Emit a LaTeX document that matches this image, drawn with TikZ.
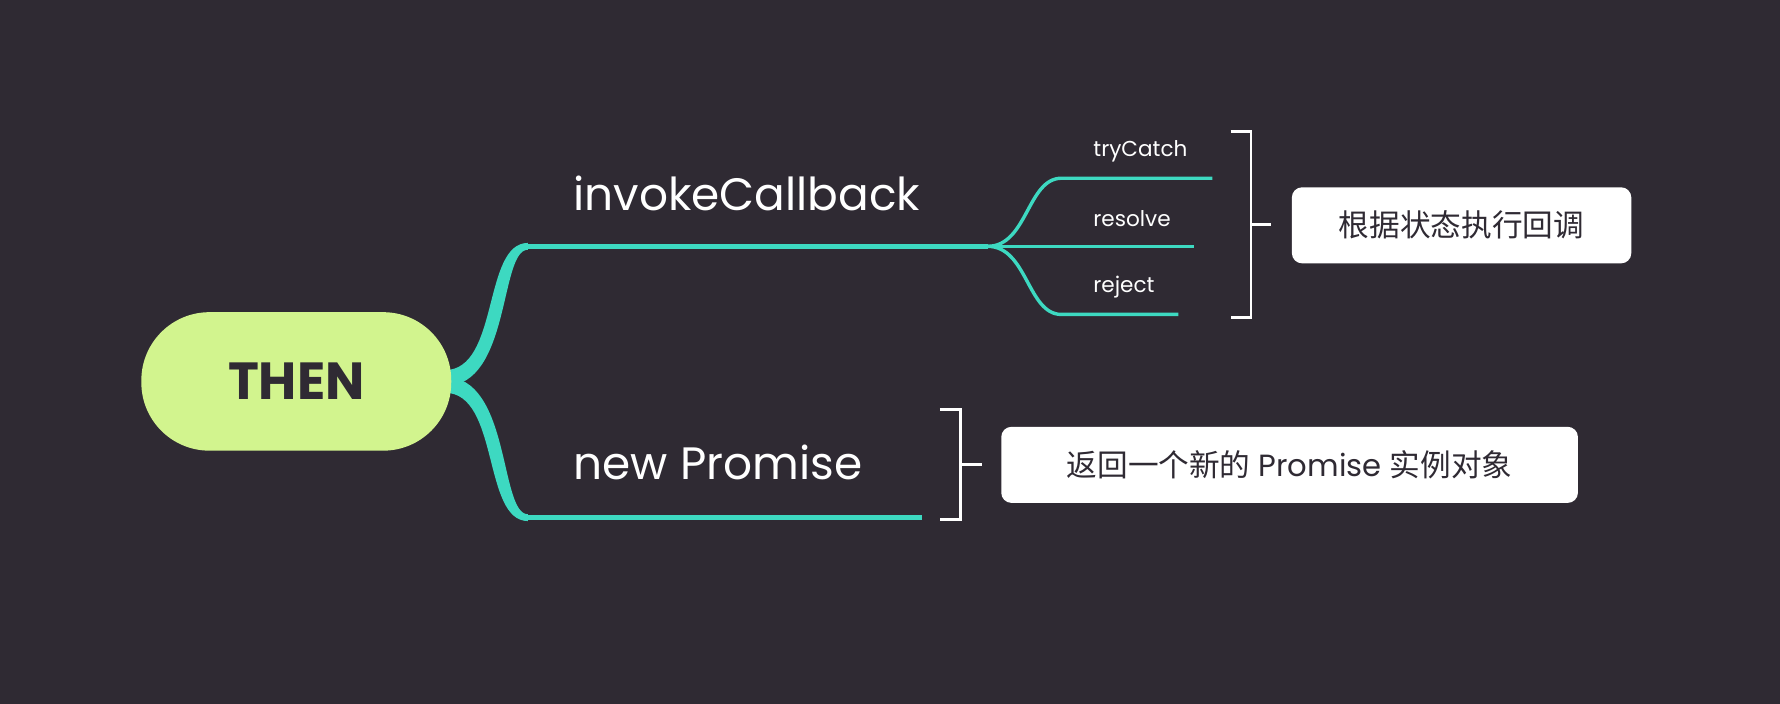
\documentclass[tikz,border=0pt]{standalone}
\usepackage{fontspec}
\setmainfont{Poppins}
\newfontfamily\cjk{Noto Sans CJK SC}
\definecolor{bg}{HTML}{2F2A33}
\definecolor{teal}{HTML}{3DD9C1}
\definecolor{lime}{HTML}{D2F48E}
\begin{document}
\begin{tikzpicture}[x=1pt,y=-1pt,
  br/.style={teal,line width=4.5pt,line cap=round},
  sbr/.style={teal,line width=3pt},
  brk/.style={white,line width=2.6pt},
  lbl/.style={white,anchor=west,inner sep=0pt},
  note/.style={fill=white,rounded corners=9pt,text=bg,inner sep=0pt}]
\fill[bg] (0,0) rectangle (1568,620);
\useasboundingbox (0,0) rectangle (1568,620);
% branches
\coordinate (r) at (398,336);
\coordinate (a) at (465,217);
\coordinate (a2) at (870,217);
\coordinate (b) at (465,456);
\coordinate (b2) at (812,456);
\fill[teal] (392,326) .. controls (440,326) and (425,214) .. (465,214) -- (465,220) .. controls (440,220) and (450,340) .. (392,340) -- cycle;
\fill[teal] (392,332) .. controls (450,332) and (440,453) .. (465,453) -- (465,459) .. controls (425,459) and (440,346) .. (392,346) -- cycle;
\draw[teal,line width=5pt] (a) -- (a2);
\draw[teal,line width=5pt] (b) -- (b2);
\node[fill=lime,rounded corners=60pt,minimum width=273pt,minimum height=122pt,inner sep=0pt,font=\fontsize{46}{46}\selectfont\bfseries,text=bg] (then) at (261,336) {THEN};
\node[lbl,font=\fontsize{40}{40}\selectfont] (ic) at (505,170) {invokeCallback};
\node[lbl,font=\fontsize{40}{40}\selectfont] (np) at (505,407) {new Promise};
% sub branches
\coordinate (t) at (1068,157);
\coordinate (s) at (1052,217);
\coordinate (j) at (1038,277);
\draw[sbr] (a2) .. controls (905,217) and (905,157) .. (935,157) -- (t);
\draw[sbr] (a2) -- (s);
\draw[sbr] (a2) .. controls (905,217) and (905,277) .. (935,277) -- (j);
\node[lbl,font=\fontsize{19}{19}\selectfont] at (963,133) {tryCatch};
\node[lbl,font=\fontsize{19}{19}\selectfont] at (963,193) {resolve};
\node[lbl,font=\fontsize{19}{19}\selectfont] at (963,253) {reject};
% brackets
\draw[brk] (1084,116) -- (1102,116) -- (1102,280) -- (1084,280);
\draw[brk] (1102,198) -- (1120,198);
\draw[brk] (828,361) -- (846,361) -- (846,458) -- (828,458);
\draw[brk] (846,409) -- (865,409);
\node[note,minimum width=299pt,minimum height=67pt,font=\cjk\fontsize{27}{27}\selectfont] (n1) at (1287.5,198.5) {根据状态执行回调};
\node[note,minimum width=508pt,minimum height=67pt,font=\fontsize{27}{27}\selectfont] (n2) at (1136,409.5) {{\cjk 返回一个新的} Promise {\cjk 实例对象}};
\end{tikzpicture}
\end{document}
